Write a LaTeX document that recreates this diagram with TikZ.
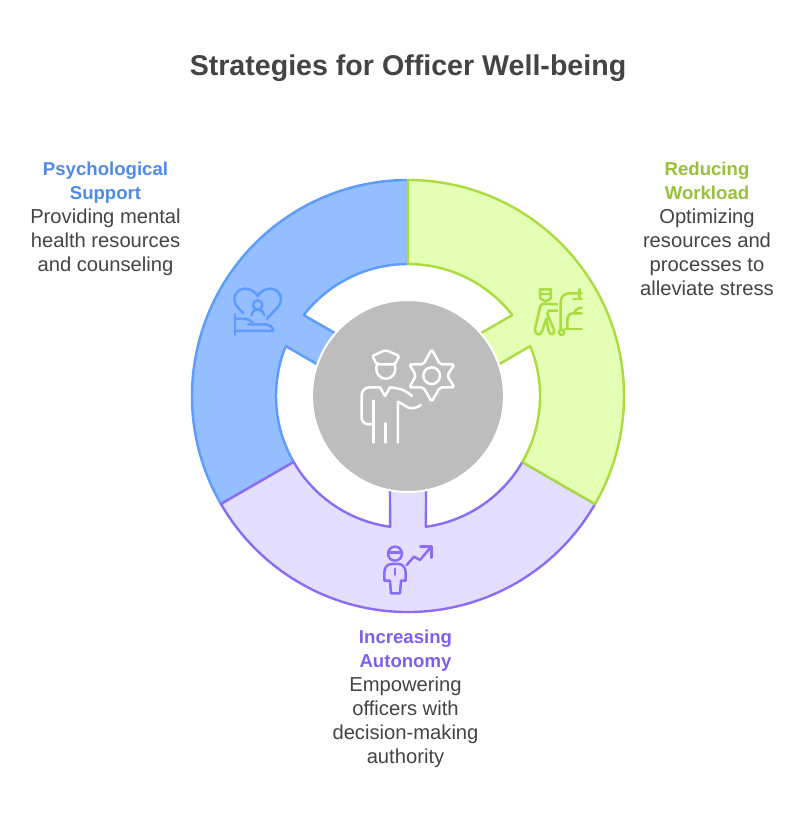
\documentclass[tikz,border=0pt]{standalone}
\usepackage{fontspec}
\setmainfont{Liberation Sans}
\definecolor{bluefill}{HTML}{94BEFF}\definecolor{blueline}{HTML}{5C9BFF}\definecolor{bluetext}{HTML}{4F8BEA}
\definecolor{greenfill}{HTML}{E4FFB3}\definecolor{greenline}{HTML}{A8DC3F}\definecolor{greentext}{HTML}{99C13A}
\definecolor{purplefill}{HTML}{E5DFFF}\definecolor{purpleline}{HTML}{8B6CF6}\definecolor{purpletext}{HTML}{7F60EE}
\definecolor{hubgrey}{HTML}{BDBDBD}\definecolor{inktext}{HTML}{444444}
\tikzset{
  label block/.style={align=center,font=\fontsize{20.2}{24}\selectfont,text=inktext,inner sep=0pt,anchor=north},
  icon/.style={line width=2.5pt,line cap=round,line join=round,fill=none},
}
\newcommand{\headcol}[2]{{\fontsize{18.6}{24}\selectfont\bfseries\color{#1}#2}}
\newcommand{\ringseg}[3]{%
  \path[fill=#3] (#1:216) arc[start angle=#1,delta angle=120,radius=216]
   -- ({#1+120}:132) arc[start angle={#1+120},delta angle=-52.2,radius=132]
   -- ({#1+60+10.8}:96) arc[start angle={#1+60+10.8},delta angle=-21.6,radius=96]
   -- ({#1+60-7.8}:132) arc[start angle={#1+60-7.8},delta angle=-52.2,radius=132] -- cycle;
  \draw[line width=2.4pt,line join=round,draw=#2]
   ({#1+60+10.8}:96) -- ({#1+60+7.8}:132) arc[start angle={#1+60+7.8},delta angle=52.2,radius=132]
   -- ({#1+120}:216) arc[start angle={#1+120},delta angle=-120,radius=216]
   -- (#1:132) arc[start angle=#1,delta angle=52.2,radius=132] -- ({#1+60-10.8}:96);
}
\begin{document}
\begin{tikzpicture}[x=1pt,y=-1pt]
\path[use as bounding box,fill=white] (0,0) rectangle (804,816);
\begin{scope}[shift={(408,396)},y=1pt]
  \ringseg{90}{blueline}{bluefill}
  \ringseg{210}{purpleline}{purplefill}
  \ringseg{330}{greenline}{greenfill}
  \draw[white,line width=2pt,fill=hubgrey] (0,0) circle[radius=96];
\end{scope}
% blue icon
\begin{scope}[shift={(190,270)},x=0.3333pt,y=-0.3333pt,icon/.append style={draw=blueline}]
  \draw[icon] (160,130) -- (143,112) .. controls (125,92) and (132,58) .. (165,56) .. controls (182,56) and (195,66) .. (203,78) .. controls (211,66) and (224,56) .. (241,56) .. controls (274,58) and (281,92) .. (263,112) -- (230,147);
  \draw[icon] (203,105) circle[radius=14];
  \draw[icon] (185,136) .. controls (187,112) and (220,112) .. (222,136);
  \draw[icon] (135,133) -- (135,196);
  \draw[icon] (135,147) -- (170,147) .. controls (180,147) and (187,155) .. (190,163);
  \draw[icon] (175,163) -- (225,163) .. controls (238,163) and (250,172) .. (250,183) -- (135,183);
\end{scope}
% green icon
\begin{scope}[shift={(470,270)},x=0.3333pt,y=-0.3333pt,icon/.append style={draw=greenline}]
  \draw[icon] (210,58) -- (243,58) -- (243,78) .. controls (243,98) and (210,98) .. (210,78) -- cycle;
  \draw[icon] (210,72) -- (243,72);
  \draw[icon] (262,103) -- (222,101) .. controls (214,101) and (212,106) .. (210,112) -- (195,178) .. controls (193,196) and (212,198) .. (216,184) -- (229,146) -- (236,184) .. controls (240,198) and (256,194) .. (252,180) -- (232,132) -- (236,122) -- (262,122);
  \draw[icon] (335,70) -- (298,70) .. controls (282,70) and (272,82) .. (272,95) -- (272,178);
  \draw[icon] (275,187) circle[radius=8];
  \draw[icon] (285,177) -- (335,177);
  \draw[icon] (292,172) -- (292,150) .. controls (292,138) and (300,130) .. (310,130) -- (335,130);
  \draw[icon] (310,130) .. controls (316,126) and (318,113) .. (335,113);
  \draw[icon] (328,57) -- (328,87);
  \draw[icon] (310,87) -- (335,87);
\end{scope}
% purple icon
\begin{scope}[shift={(340,480)},x=0.3333pt,y=-0.3333pt,icon/.append style={draw=purpleline}]
  \draw[icon] (165,221) circle[radius=21];
  \draw[icon] (144,217) -- (186,217);
  \draw[icon] (133,302) -- (133,278) .. controls (133,262) and (142,252) .. (155,252) -- (175,252) .. controls (188,252) and (197,262) .. (197,278) -- (197,302) -- (183,302) -- (180,340) -- (153,340) -- (150,302) -- cycle;
  \draw[icon] (165,266) -- (165,284);
  \draw[icon] (200,255) -- (222,230) -- (240,240) -- (272,202);
  \draw[icon] (241,200) -- (274,200) -- (274,233);
\end{scope}
% hub icon
\begin{scope}[shift={(340,330)},x=0.3333pt,y=-0.3333pt,icon/.append style={draw=white}]
  \draw[icon,rounded corners=2pt] (97,78) -- (137,60) -- (178,78) -- (165,103) -- (110,103) -- cycle;
  \draw[icon] (110,105) .. controls (100,160) and (175,160) .. (165,105);
  \draw[icon] (216,198) .. controls (200,185) and (190,178) .. (170,175) -- (150,172) -- (135,198) -- (120,172) -- (90,172) .. controls (75,172) and (65,182) .. (65,197) -- (65,265) .. controls (65,280) and (85,288) .. (100,280);
  \draw[icon] (101,212) -- (101,338);
  \draw[icon] (137,280) -- (137,338);
  \draw[icon] (174,338) -- (174,215) -- (205,233) .. controls (220,238) and (232,232) .. (242,225);
  \draw[icon,rounded corners=2pt] (275,58) -- (300,103) -- (343,103) -- (322,137) -- (343,172) -- (300,172) -- (275,215) -- (250,172) -- (208,172) -- (228,137) -- (208,103) -- (250,103) -- cycle;
  \draw[icon] (275,137) circle[radius=25];
\end{scope}
% texts
\node[inner sep=0pt,text=inktext,font=\fontsize{28.6}{34}\selectfont\bfseries] (title) at (408,68.5) {Strategies for Officer Well-being};
\node[label block] (blue label) at (105.5,162) {\headcol{bluetext}{Psychological}\\\headcol{bluetext}{Support}\\Providing mental\\health resources\\and counseling};
\node[label block] (green label) at (707,162) {\headcol{greentext}{Reducing}\\\headcol{greentext}{Workload}\\Optimizing\\resources and\\processes to\\alleviate stress};
\node[label block] (purple label) at (405.5,630) {\headcol{purpletext}{Increasing}\\\headcol{purpletext}{Autonomy}\\Empowering\\officers with\\decision-making\\authority};
\end{tikzpicture}
\end{document}
